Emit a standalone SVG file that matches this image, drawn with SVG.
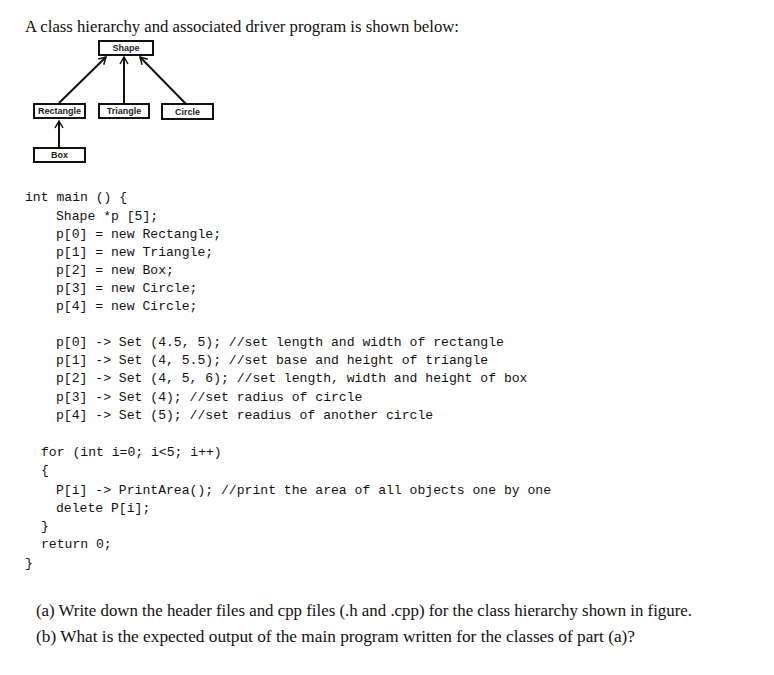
<svg xmlns="http://www.w3.org/2000/svg" width="774" height="675" viewBox="0 0 774 675">
<style>
.n{fill:#fff;stroke:#111;stroke-width:2}
.l{font-family:"Liberation Sans",Arial,sans-serif;font-size:9px;font-weight:bold;fill:#222;text-anchor:middle}
.c{stroke:#111;stroke-width:2;fill:none;marker-end:url(#a)}
.s{font-family:"Liberation Serif","Times New Roman",serif;font-size:16.6px;fill:#111}
.m{font-family:"Liberation Mono","Courier New",monospace;font-size:13.1px;fill:#111;white-space:pre}
</style>
<defs><marker id="a" markerWidth="10" markerHeight="10" refX="8" refY="5" orient="auto" markerUnits="userSpaceOnUse"><path d="M1,1 L8,5 L1,9" fill="none" stroke="#111" stroke-width="1.5"/></marker></defs>
<rect width="774" height="675" fill="#fff"/>
<text class="s" x="25" y="32" textLength="434" lengthAdjust="spacingAndGlyphs">A class hierarchy and associated driver program is shown below:</text>
<g id="connectors">
<path class="c" d="M59,103 L106,57"/>
<path class="c" d="M124,103 L124,57"/>
<path class="c" d="M186,104 L140,57"/>
<path class="c" d="M59,147 L59,121"/>
</g>
<g id="shape"><rect class="n" x="99" y="41" width="54" height="14"/><text class="l" x="126" y="51">Shape</text></g>
<g id="rectangle"><rect class="n" x="34" y="104" width="51" height="14"/><text class="l" x="59.5" y="114">Rectangle</text></g>
<g id="triangle"><rect class="n" x="99" y="104" width="50" height="14"/><text class="l" x="124" y="114">Triangle</text></g>
<g id="circle"><rect class="n" x="162" y="104" width="51" height="15"/><text class="l" x="187.5" y="115">Circle</text></g>
<g id="box"><rect class="n" x="34" y="148" width="51" height="14"/><text class="l" x="59.5" y="158">Box</text></g>
<g>
<text class="m" x="25" y="201">int main () {</text>
<text class="m" x="56" y="220">Shape *p [5];</text>
<text class="m" x="56" y="238">p[0] = new Rectangle;</text>
<text class="m" x="56" y="256">p[1] = new Triangle;</text>
<text class="m" x="56" y="274">p[2] = new Box;</text>
<text class="m" x="56" y="292">p[3] = new Circle;</text>
<text class="m" x="56" y="310">p[4] = new Circle;</text>
<text class="m" x="56" y="346">p[0] -&gt; Set (4.5, 5); //set length and width of rectangle</text>
<text class="m" x="56" y="364">p[1] -&gt; Set (4, 5.5); //set base and height of triangle</text>
<text class="m" x="56" y="382">p[2] -&gt; Set (4, 5, 6); //set length, width and height of box</text>
<text class="m" x="56" y="401">p[3] -&gt; Set (4); //set radius of circle</text>
<text class="m" x="56" y="419">p[4] -&gt; Set (5); //set readius of another circle</text>
<text class="m" x="41" y="456">for (int i=0; i&lt;5; i++)</text>
<text class="m" x="41" y="474">{</text>
<text class="m" x="56" y="494">P[i] -&gt; PrintArea(); //print the area of all objects one by one</text>
<text class="m" x="56" y="512">delete P[i];</text>
<text class="m" x="41" y="530">}</text>
<text class="m" x="41" y="548">return 0;</text>
<text class="m" x="25" y="567">}</text>
</g>
<text class="s" x="36" y="616" textLength="656" lengthAdjust="spacingAndGlyphs">(a) Write down the header files and cpp files (.h and .cpp) for the class hierarchy shown in figure.</text>
<text class="s" x="36" y="642" textLength="599" lengthAdjust="spacingAndGlyphs">(b) What is the expected output of the main program written for the classes of part (a)?</text>
</svg>
